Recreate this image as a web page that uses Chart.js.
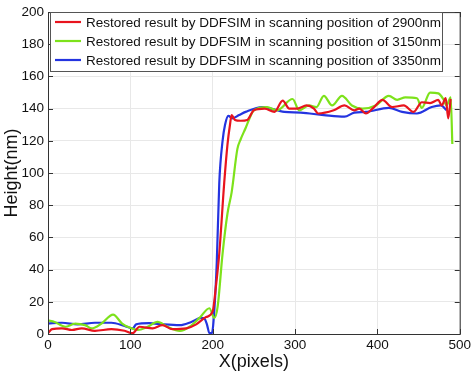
<!DOCTYPE html>
<html>
<head>
<meta charset="utf-8">
<script src="https://cdn.jsdelivr.net/npm/chart.js@4"></script>
<style>
  html, body { margin: 0; padding: 0; background: #fff; }
  #wrap { width: 474px; height: 373px; }
</style>
</head>
<body>
<div id="wrap"><canvas id="chart" width="474" height="373"></canvas></div>
<script>
// Series labels
const seriesLabels = [
    "Restored result by DDFSIM in scanning position of 2900nm",
    "Restored result by DDFSIM in scanning position of 3150nm",
    "Restored result by DDFSIM in scanning position of 3350nm"
];
const seriesColors = ["#e8141e", "#7de21b", "#2434e0"];

// 2900nm (red)
const redX = [0, 5, 17, 29, 41, 57, 77, 93, 103, 111, 127, 139, 151, 168, 180, 192, 200, 204, 208, 214, 218, 221, 223, 227, 234, 242, 250, 263, 275, 285, 293, 303, 314, 323, 328, 347, 360, 372, 378, 386, 396, 406, 418, 432, 444, 454, 464, 474, 478, 483, 486, 489];
const redY = [0.5, 3, 3.5, 2.5, 3.5, 2, 3, 2, 0.5, 4.5, 3.5, 5.5, 3, 3.5, 6, 10.5, 14, 30, 50, 94, 118, 130, 136, 133, 132.5, 133, 139, 140, 138, 145, 140, 140, 142, 140, 137, 139, 142, 139, 140, 137, 141, 145.5, 141, 142, 138, 144, 143.5, 145.5, 142, 146.5, 134, 146];

// 3150nm (green)
const greenX = [0, 8, 21, 33, 45, 53, 65, 79, 90, 99, 109, 121, 133, 145, 160, 172, 184, 196, 202, 206, 212, 218, 223, 230, 234, 240, 246, 250, 266, 278, 297, 305, 317, 326, 335, 345, 357, 369, 382, 398, 414, 424, 434, 448, 454, 464, 474, 480, 484, 489, 491];
const greenY = [8.5, 7.5, 4.5, 6.5, 5.5, 3.5, 6.5, 12, 6.5, 4, 2.5, 4.5, 7.5, 4.5, 2, 4.5, 10, 16, 10, 17, 50, 75, 88, 115, 121, 128, 135.5, 139, 141, 139, 146, 139, 142, 141, 148, 142, 148, 142, 140, 142, 148, 145.5, 147, 146.5, 140.5, 150, 149.5, 146, 142, 147, 118];

// 3350nm (blue)
const blueX = [0, 17, 36, 57, 77, 93, 103, 107, 123, 139, 160, 174, 186, 190, 193, 196, 199, 202, 205, 208, 212, 215, 219, 224, 232, 240, 260, 287, 307, 335, 360, 372, 386, 414, 430, 448, 466, 477, 484];
const blueY = [6.5, 7, 6, 7, 7, 5, 3.5, 6, 6.7, 6, 5.5, 7.5, 10, 9.5, 6, 0.5, 0.5, 15, 45, 94, 120, 130, 135.5, 134, 136, 138, 141, 138, 137.5, 136, 135, 137.5, 138, 140.5, 138, 137, 141, 142, 139];

// Axis ticks
const xTicks = [0, 100, 200, 300, 400, 500];
const yTicks = [0, 20, 40, 60, 80, 100, 120, 140, 160, 180, 200];

function toPoints(xs, ys) {
    return xs.map((x, i) => ({ x: x, y: ys[i] }));
}

const FONT = "'Liberation Sans', Arial, Helvetica, sans-serif";

// Box around plot + inward tick marks on all four sides
const boxPlugin = {
    id: "boxPlugin",
    afterDraw(chart) {
        const c = chart.ctx;
        const a = chart.chartArea;
        const xs = chart.scales.x;
        const ys = chart.scales.y;
        c.save();
        c.strokeStyle = "#333";
        c.lineWidth = 1;
        c.strokeRect(a.left + 0.5, a.top + 0.5, a.right - a.left, a.bottom - a.top);
        c.beginPath();
        xTicks.forEach(v => {
            const px = Math.round(xs.getPixelForValue(v)) + 0.5;
            c.moveTo(px, a.bottom); c.lineTo(px, a.bottom - 5);
            c.moveTo(px, a.top); c.lineTo(px, a.top + 5);
        });
        yTicks.forEach(v => {
            const py = Math.round(ys.getPixelForValue(v)) + 0.5;
            c.moveTo(a.left, py); c.lineTo(a.left + 5, py);
            c.moveTo(a.right, py); c.lineTo(a.right - 5, py);
        });
        c.stroke();

        // Legend box (MATLAB style)
        const lx = 50, ly = 12, lw = 392, lh = 59;
        c.fillStyle = "#fff";
        c.fillRect(lx, ly, lw, lh);
        c.strokeStyle = "#555";
        c.strokeRect(lx + 0.5, ly + 0.5, lw, lh);
        c.font = "13.5px " + FONT;
        c.textBaseline = "middle";
        chart.data.datasets.forEach((ds, i) => {
            const yy = 22 + i * 19;
            c.strokeStyle = ds.borderColor;
            c.lineWidth = 2.2;
            c.beginPath();
            c.moveTo(55, yy); c.lineTo(81, yy);
            c.stroke();
            c.fillStyle = "#111";
            c.fillText(ds.label, 86, yy + 1);
        });
        c.restore();
    }
};

const ctx = document.getElementById("chart").getContext("2d");

new Chart(ctx, {
    type: "line",
    data: {
        datasets: [
            { label: seriesLabels[0], data: toPoints(redX, redY), borderColor: seriesColors[0] },
            { label: seriesLabels[1], data: toPoints(greenX, greenY), borderColor: seriesColors[1] },
            { label: seriesLabels[2], data: toPoints(blueX, blueY), borderColor: seriesColors[2] }
        ]
    },
    options: {
        responsive: false,
        animation: false,
        layout: { padding: { top: 8, right: 13, left: 0, bottom: 0 } },
        elements: {
            point: { radius: 0 },
            line: { borderWidth: 2.2, cubicInterpolationMode: "monotone", fill: false }
        },
        plugins: {
            legend: { display: false },
            tooltip: { enabled: false }
        },
        scales: {
            x: {
                type: "linear",
                min: 0,
                max: 500,
                afterFit(s) { s.height = 39; },
                afterBuildTicks(s) { s.ticks = xTicks.map(v => ({ value: v })); },
                grid: { color: "#e8e8e8", drawTicks: false },
                border: { display: false },
                ticks: { padding: 3, color: "#111", font: { family: FONT, size: 13.5 }, maxRotation: 0 },
                title: { display: true, text: "X(pixels)", color: "#111", padding: 0, font: { family: FONT, size: 18 } }
            },
            y: {
                min: 0,
                max: 200,
                afterFit(s) { s.width = 48; },
                afterBuildTicks(s) { s.ticks = yTicks.map(v => ({ value: v })); },
                grid: { color: "#e8e8e8", drawTicks: false },
                border: { display: false },
                ticks: { padding: 4, color: "#111", font: { family: FONT, size: 13.5 } },
                title: { display: true, text: "Height(nm)", color: "#111", padding: { top: 1, bottom: 0 }, font: { family: FONT, size: 18 } }
            }
        }
    },
    plugins: [boxPlugin]
});
</script>
</body>
</html>
